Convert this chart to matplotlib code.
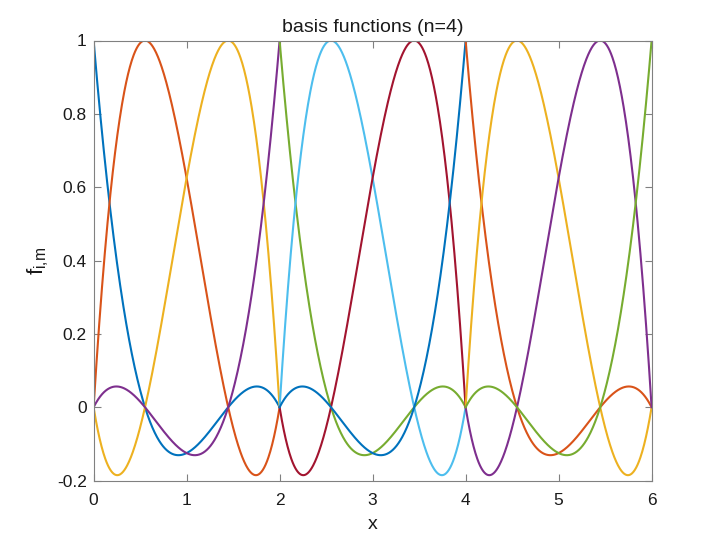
import numpy as np
import matplotlib
matplotlib.use("Agg")
import matplotlib.pyplot as plt

# Element boundaries and local node positions (Gauss-Lobatto, n=4 nodes per element)
element_edges = [0, 2, 4, 6]
local_nodes = [-1.0, -0.4472, 0.4472, 1.0]
colors = ["#0072BD", "#D95319", "#EDB120", "#7E2F8E",
          "#77AC30", "#4DBEEE", "#A2142F"]
title = "basis functions (n=4)"
xticks = [0, 1, 2, 3, 4, 5, 6]
yticks = [-0.2, 0, 0.2, 0.4, 0.6, 0.8, 1]
ytick_labels = ["-0.2", "0", "0.2", "0.4", "0.6", "0.8", "1"]

plt.rcParams["font.family"] = ["Liberation Sans", "DejaVu Sans"]
plt.rcParams["mathtext.fontset"] = "custom"
plt.rcParams["mathtext.rm"] = "Liberation Sans"
fig = plt.figure(figsize=(7.2, 5.4), dpi=100)
ax = fig.add_axes([0.13, 0.11, 0.775, 0.815])

nodes = np.array(local_nodes)
k = 0
for a, b in zip(element_edges[:-1], element_edges[1:]):
    xi = np.linspace(-1, 1, 400)
    x = a + (xi + 1) * (b - a) / 2
    for i in range(len(nodes)):
        y = np.ones_like(xi)
        for j in range(len(nodes)):
            if j != i:
                y *= (xi - nodes[j]) / (nodes[i] - nodes[j])
        ax.plot(x, y, color=colors[k % len(colors)], lw=1.5)
        k += 1

ax.set_xlim(0, 6)
ax.set_ylim(-0.2, 1)
ax.set_xticks(xticks)
ax.set_yticks(yticks)
ax.set_yticklabels(ytick_labels)
gray = "#808080"
for s in ax.spines.values():
    s.set_color(gray)
    s.set_linewidth(0.8)
ax.tick_params(direction="in", top=True, right=True, length=5, width=0.8,
               color=gray, labelsize=12.5, labelcolor="#1a1a1a")
ax.tick_params(axis="x", pad=9)
ax.tick_params(axis="y", pad=5)
ax.set_title(title, fontsize=14, color="#1a1a1a", pad=6)
ax.set_xlabel("x", fontsize=14, color="#1a1a1a", labelpad=6)
ax.set_ylabel(r"$\mathregular{f_{i{,}m}}$", fontsize=16, color="#1a1a1a", labelpad=4)

fig.savefig("out.png", dpi=100)
